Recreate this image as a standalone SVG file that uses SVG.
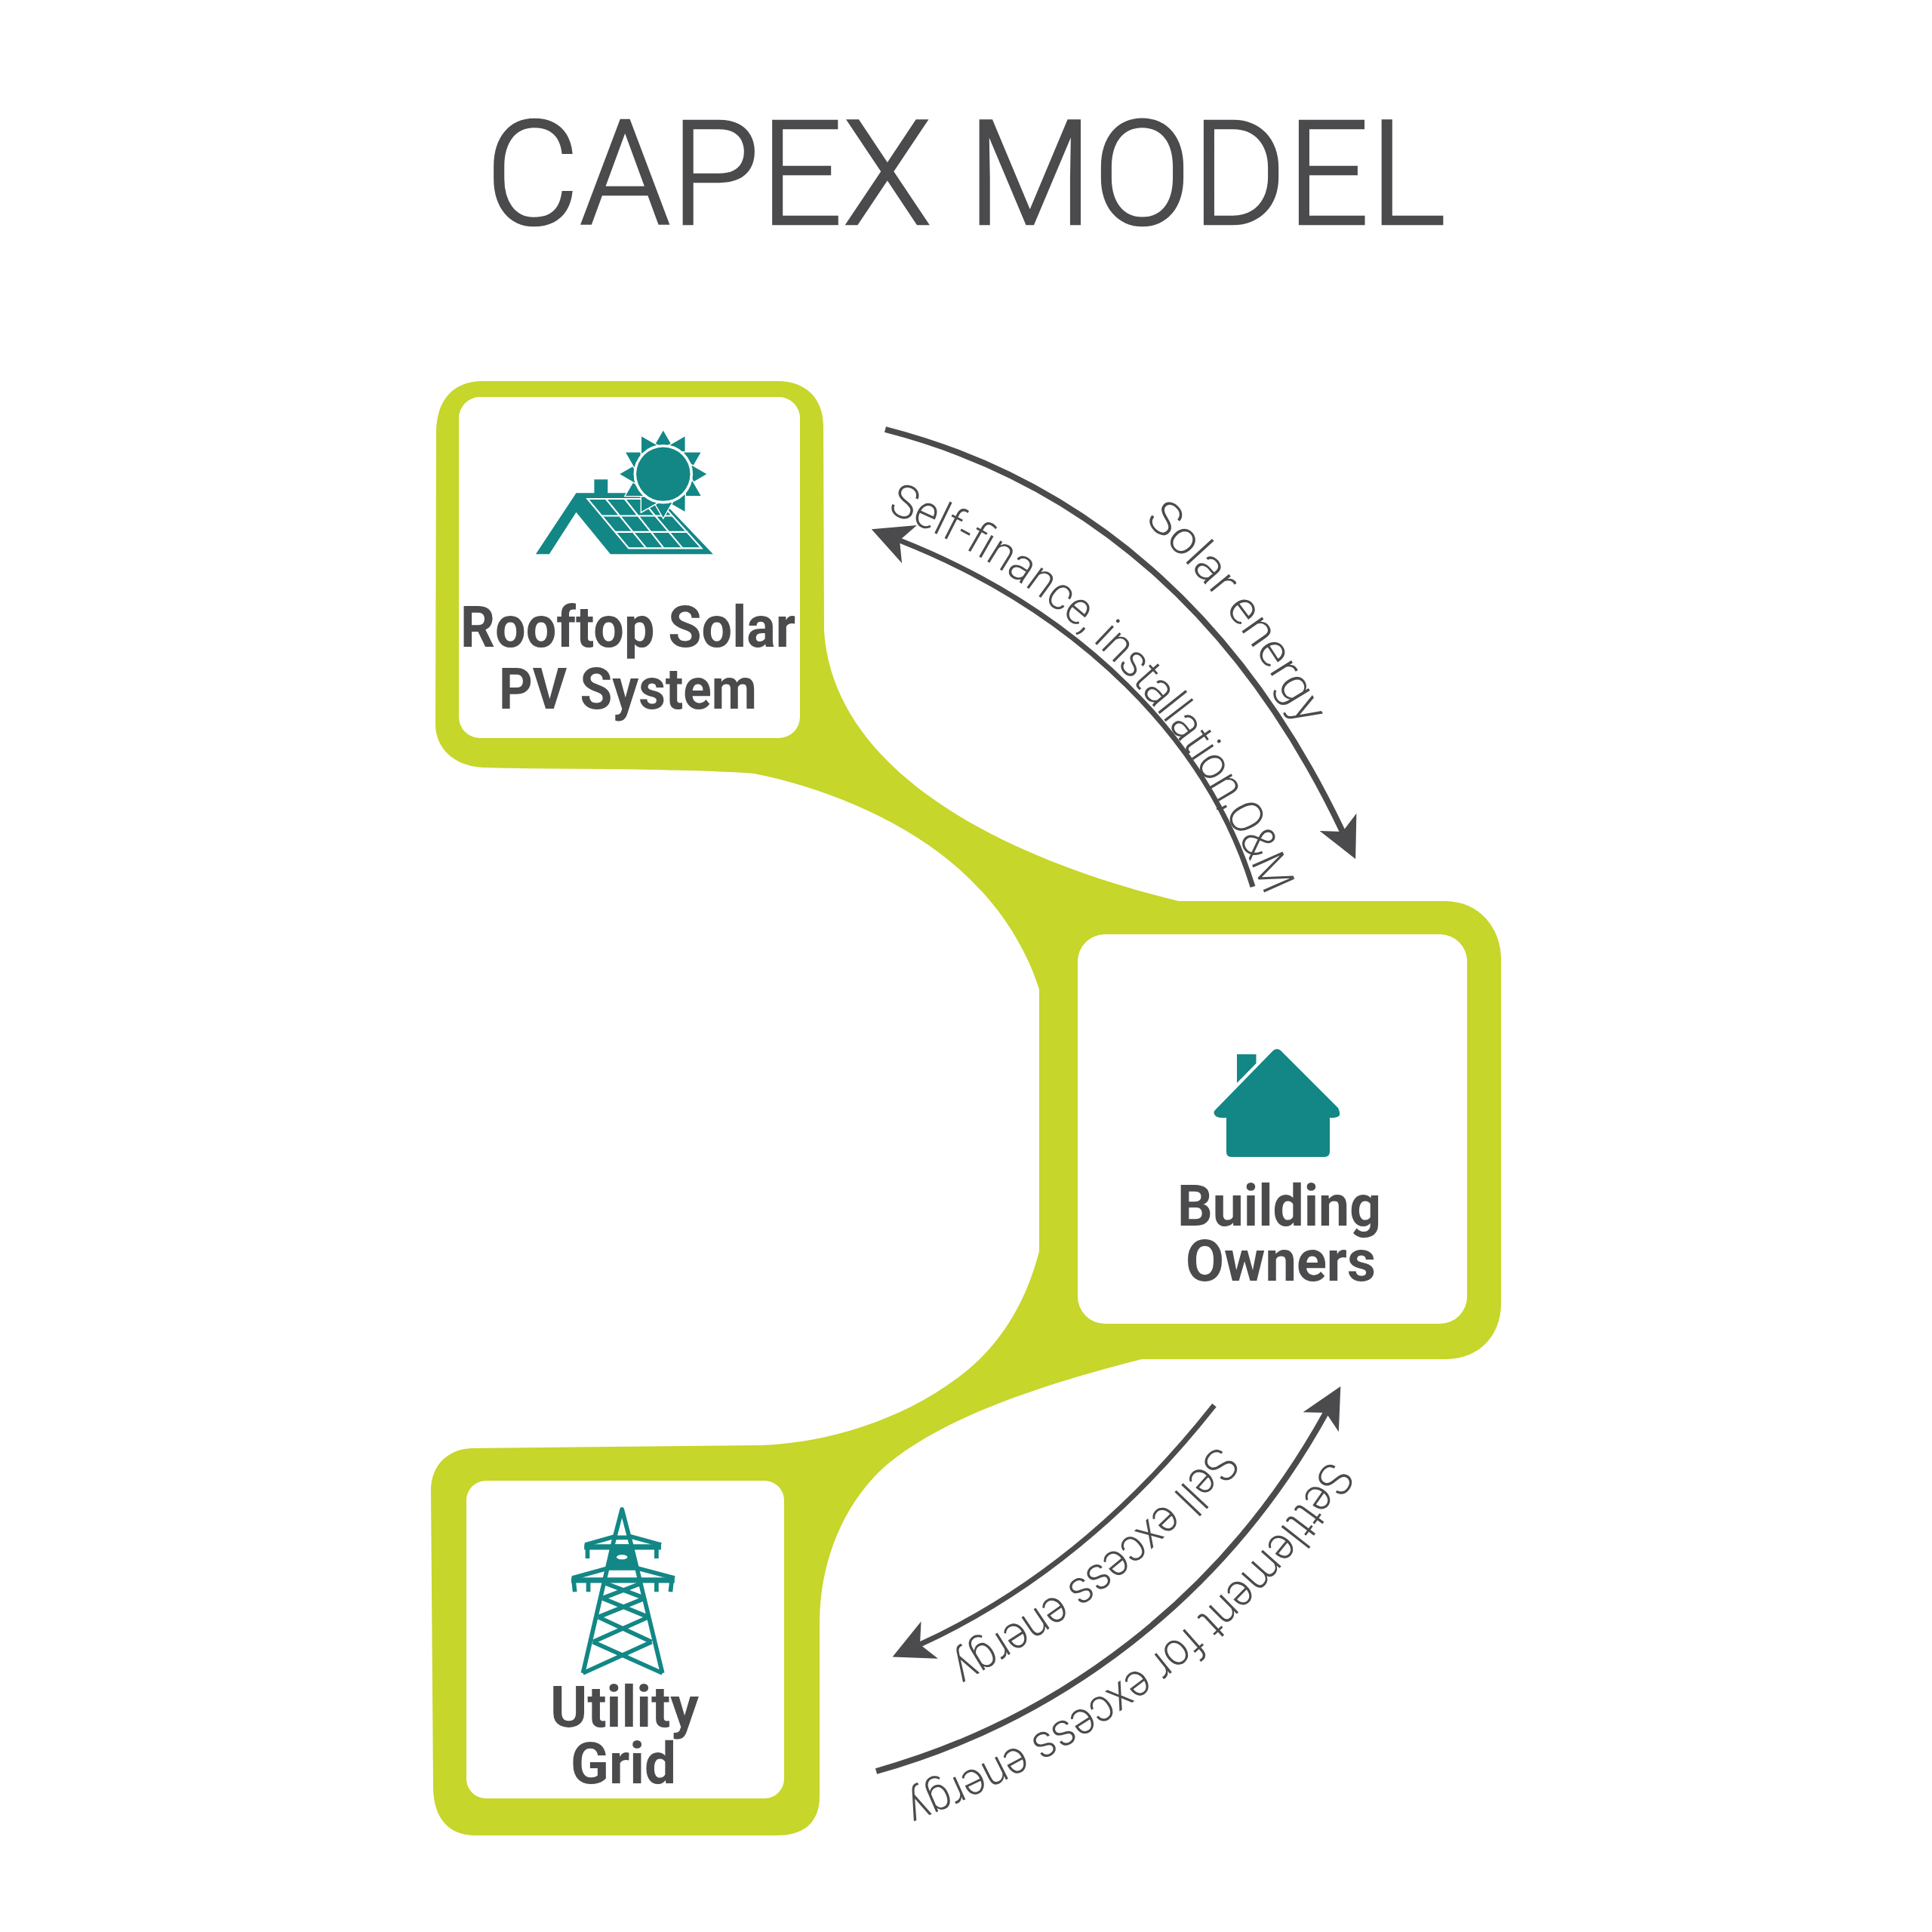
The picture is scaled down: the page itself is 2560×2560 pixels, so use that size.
<svg xmlns="http://www.w3.org/2000/svg" xmlns:xlink="http://www.w3.org/1999/xlink" width="2560" height="2560" viewBox="0 0 2560 2560">
<style>
.lbl{font-family:"Roboto","Liberation Sans",sans-serif;font-weight:700;font-size:76px;fill:#4b4b4d}
.flow{font-family:"Roboto","Liberation Sans",sans-serif;font-weight:300;font-size:62px;fill:#4b4b4d}
.arrow{fill:none;stroke:#4b4b4d;stroke-width:8}
.teal{fill:#128786}
.wl{stroke:#fff;stroke-width:6;fill:none}
.tw{stroke:#128786;stroke-width:16;fill:none}
</style>
<defs>
<marker id="head" markerUnits="userSpaceOnUse" orient="auto" refX="0" refY="0" markerWidth="70" markerHeight="70" viewBox="-20 -35 70 70">
<path d="M-14,-27 L40,0 L-14,27 L0,0Z" fill="#4b4b4d"/>
</marker>
<path id="p1" d="M1516,690 Q1640,802 1740,990"/>
<path id="p2" d="M1175,679 C1410,770 1580,950 1680,1195"/>
<path id="p3" d="M1612,1914 C1520,2028 1400,2122 1240,2212"/>
<path id="p4" d="M1760,1934 C1645,2122 1445,2290 1180,2390"/>
</defs>
<rect width="2560" height="2560" fill="#fff"/>
<text id="title" x="643" y="297" font-family="Roboto,'Liberation Sans',sans-serif" font-weight="300" font-size="193" fill="#4b4b4d" stroke="#4b4b4d" stroke-width="2.500" textLength="1273" lengthAdjust="spacingAndGlyphs">CAPEX MODEL</text>
<path id="frame" fill="#c6d62b" d="M578,575 C578,530 600,505 640,505 L1030,505 C1070,505 1091,530 1091,565 L1092,837 C1105,1020 1320,1135 1562,1194 L1915,1194 C1960,1194 1989,1230 1989,1270 L1989,1727 C1989,1770 1960,1801 1915,1801 L1513,1801 C1380,1835 1240,1880 1165,1950 C1110,2005 1086,2080 1086,2150 L1086,2380 C1086,2415 1065,2432 1030,2432 L630,2432 C595,2432 575,2410 574,2370 L571,1975 C571,1940 595,1920 625,1919 L1010,1915 C1090,1912 1190,1885 1270,1825 C1330,1780 1361,1720 1377,1658 L1377,1311 C1361,1260 1330,1210 1294,1174 C1220,1095 1100,1045 999,1025 C900,1018 760,1020 640,1017 C600,1015 577,990 577,960 Z"/>
<g id="connectors">
<path class="arrow" marker-end="url(#head)" d="M1173,569 C1450,640 1650,830 1779,1102"/>
<path class="arrow" style="stroke-width:7" marker-end="url(#head)" d="M1660,1175 C1600,980 1430,810 1192,716"/>
<path class="arrow" style="stroke-width:7" marker-end="url(#head)" d="M1609,1862 C1500,2000 1370,2110 1219,2179"/>
<path class="arrow" marker-end="url(#head)" d="M1161,2347 C1400,2280 1620,2120 1757,1872"/>
<text class="flow"><textPath href="#p1" xlink:href="#p1" textLength="345" lengthAdjust="spacingAndGlyphs">Solar energy</textPath></text>
<text class="flow"><textPath href="#p2" xlink:href="#p2" textLength="735" lengthAdjust="spacingAndGlyphs">Self-finance, installation,O&amp;M</textPath></text>
<text class="flow"><textPath href="#p3" xlink:href="#p3" textLength="458" lengthAdjust="spacingAndGlyphs">Sell excess energy</textPath></text>
<text class="flow"><textPath href="#p4" xlink:href="#p4" textLength="732" lengthAdjust="spacingAndGlyphs">Settlement for excess energy</textPath></text>
</g>
<g id="node-rooftop">
<rect x="608" y="526" width="452" height="452" rx="28" fill="#fff"/>
<g transform="translate(560,480) scale(0.357)">
<path class="teal" d="M420,712 L570,485 L862,485 L1078,712 L697,712 L570,557 L470,712Z"/>
<rect class="teal" x="637" y="435" width="50" height="55"/>
<g class="wl">
<path d="M612,507 L870,507 L1035,690 L765,690Z"/>
<path d="M665,570 L925,570 M715,630 L985,630 M680,507 L830,690 M750,507 L895,690 M810,507 L965,690"/>
</g>
<g fill="#128786" stroke="#fff" stroke-width="4">
<polygon points="857,312 929,312 893,250" transform="rotate(0 893 415)"/>
<polygon points="857,312 929,312 893,250" transform="rotate(30 893 415)"/>
<polygon points="857,312 929,312 893,250" transform="rotate(60 893 415)"/>
<polygon points="857,312 929,312 893,250" transform="rotate(90 893 415)"/>
<polygon points="857,312 929,312 893,250" transform="rotate(120 893 415)"/>
<polygon points="857,312 929,312 893,250" transform="rotate(150 893 415)"/>
<polygon points="857,312 929,312 893,250" transform="rotate(180 893 415)"/>
<polygon points="857,312 929,312 893,250" transform="rotate(210 893 415)"/>
<polygon points="857,312 929,312 893,250" transform="rotate(240 893 415)"/>
<polygon points="857,312 929,312 893,250" transform="rotate(270 893 415)"/>
<polygon points="857,312 929,312 893,250" transform="rotate(300 893 415)"/>
<polygon points="857,312 929,312 893,250" transform="rotate(330 893 415)"/>
</g>
<circle cx="893" cy="415" r="110" fill="#fff"/>
<circle cx="893" cy="415" r="100" class="teal"/>
</g>
<text class="lbl" x="610" y="857" textLength="444" lengthAdjust="spacingAndGlyphs">Rooftop Solar</text>
<text class="lbl" x="661" y="939" textLength="342" lengthAdjust="spacingAndGlyphs">PV System</text>
</g>
<g id="node-owners">
<rect x="1428" y="1238" width="516" height="516" rx="36" fill="#fff"/>
<path class="teal" d="M1687,1392 Q1692,1388 1697,1392 L1773,1468 Q1778,1478 1772,1480 Q1766,1482 1762,1481 L1762,1526 Q1762,1533 1755,1533 L1631,1533 Q1625,1533 1625,1526 L1625,1481 Q1614,1482 1610,1478 Q1607,1474 1610,1471Z"/>
<path class="teal" d="M1639,1397 L1664.500,1397 L1664.500,1409 L1639,1435Z"/>
<text class="lbl" x="1560" y="1624" textLength="270" lengthAdjust="spacingAndGlyphs">Building</text>
<text class="lbl" x="1571" y="1697" textLength="252" lengthAdjust="spacingAndGlyphs">Owners</text>
</g>
<g id="node-grid">
<rect x="618" y="1962" width="421" height="421" rx="26" fill="#fff"/>
<g transform="translate(560,1900) scale(0.357)">
<g class="tw">
<path d="M595,888 L706,410 L740,280 L774,410 L890,888" stroke-linejoin="round"/>
<path d="M595,888 L850,772 M890,888 L632,772 M632,772 L838,680 M850,772 L652,680 M652,680 L825,610 M838,680 L668,610 M668,610 L810,555 M825,610 L680,555"/>
<path d="M555,535 L690,498 M935,535 L795,498 M603,412 L715,380 M885,412 L770,380 M715,385 L770,385 M690,498 L795,498"/>
<path stroke-width="20" d="M552,543 L935,543 M600,420 L885,420"/>
<path d="M560,540 L565,586 M615,540 L615,586 M868,540 L868,586 M925,540 L920,586 M612,420 L612,462 M868,420 L868,462"/>
</g>
<path class="teal" d="M708,410 L776,410 L798,495 L686,495Z"/>
<ellipse cx="740" cy="457" rx="20" ry="9" fill="#fff"/>
</g>
<text class="lbl" x="729" y="2288" textLength="197" lengthAdjust="spacingAndGlyphs">Utility</text>
<text class="lbl" x="756" y="2363" textLength="140" lengthAdjust="spacingAndGlyphs">Grid</text>
</g>
</svg>
